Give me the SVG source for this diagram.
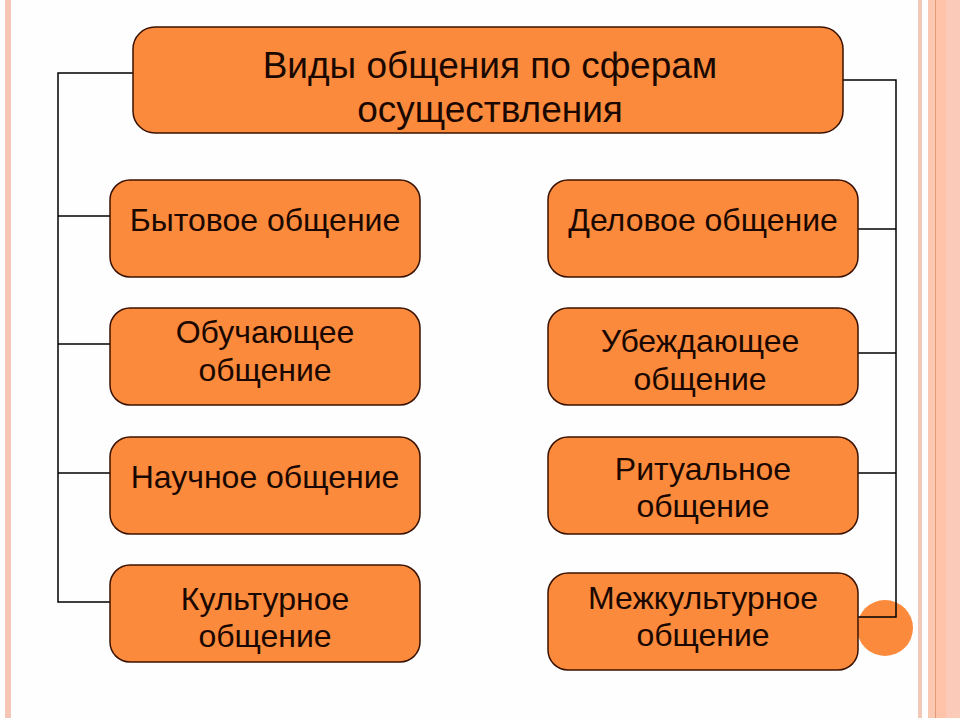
<svg xmlns="http://www.w3.org/2000/svg" width="960" height="720" viewBox="0 0 960 720">
<style>
.box{fill:#fb8a3c;stroke:#3a1200;stroke-width:1.5}
.t{font-family:"Liberation Sans",Arial,sans-serif;font-size:32px;fill:#1a0800;text-anchor:middle}
.title{font-family:"Liberation Sans",Arial,sans-serif;font-size:37px;fill:#1a0800;text-anchor:middle}
.c{fill:none;stroke:#000;stroke-width:1.5}
</style>
<rect width="960" height="720" fill="#fefefe"/>
<g id="decor">
<rect x="5" y="0" width="6" height="718" fill="#f7c5b5"/>
<rect x="918" y="0" width="4" height="718" fill="#f2c9b8"/>
<rect x="928" y="0" width="7" height="718" fill="#fbc8b2"/>
<rect x="935" y="0" width="1.2" height="718" fill="#e29a78"/>
<rect x="936" y="0" width="10" height="718" fill="#fec3a8"/>
<rect x="946" y="0" width="14" height="718" fill="#fccab8"/>
<circle cx="885" cy="628" r="28" fill="#fb8a3c"/>
</g>
<g id="connectors">
<polyline class="c" points="133,73 58,73 58,602 110,602"/>
<line class="c" x1="58" y1="216" x2="110" y2="216"/>
<line class="c" x1="58" y1="344" x2="110" y2="344"/>
<line class="c" x1="58" y1="473" x2="110" y2="473"/>
<polyline class="c" points="843,80 896,80 896,617 858,617"/>
<line class="c" x1="858" y1="229" x2="896" y2="229"/>
<line class="c" x1="858" y1="353" x2="896" y2="353"/>
<line class="c" x1="858" y1="473" x2="896" y2="473"/>
</g>
<g id="title">
<rect class="box" x="133" y="27" width="710" height="106" rx="22"/>
<text class="title" x="490" y="78">Виды общения по сферам</text>
<text class="title" x="490" y="122">осуществления</text>
</g>
<g id="bytovoe">
<rect class="box" x="110" y="180" width="310" height="97" rx="20"/>
<text class="t" x="265" y="231">Бытовое общение</text>
</g>
<g id="obuchayushchee">
<rect class="box" x="110" y="308" width="310" height="97" rx="20"/>
<text class="t" x="265" y="343">Обучающее</text>
<text class="t" x="265" y="381">общение</text>
</g>
<g id="nauchnoe">
<rect class="box" x="110" y="437" width="310" height="97" rx="20"/>
<text class="t" x="265" y="488">Научное общение</text>
</g>
<g id="kulturnoe">
<rect class="box" x="110" y="565" width="310" height="97" rx="20"/>
<text class="t" x="265" y="610">Культурное</text>
<text class="t" x="265" y="647">общение</text>
</g>
<g id="delovoe">
<rect class="box" x="548" y="180" width="310" height="97" rx="20"/>
<text class="t" x="703" y="231">Деловое общение</text>
</g>
<g id="ubezhdayushchee">
<rect class="box" x="548" y="308" width="310" height="97" rx="20"/>
<text class="t" x="700" y="352">Убеждающее</text>
<text class="t" x="700" y="390">общение</text>
</g>
<g id="ritualnoe">
<rect class="box" x="548" y="437" width="310" height="97" rx="20"/>
<text class="t" x="703" y="480">Ритуальное</text>
<text class="t" x="703" y="517">общение</text>
</g>
<g id="mezhkulturnoe">
<rect class="box" x="548" y="573" width="310" height="97" rx="20"/>
<text class="t" x="703" y="609">Межкультурное</text>
<text class="t" x="703" y="646">общение</text>
</g>
</svg>
